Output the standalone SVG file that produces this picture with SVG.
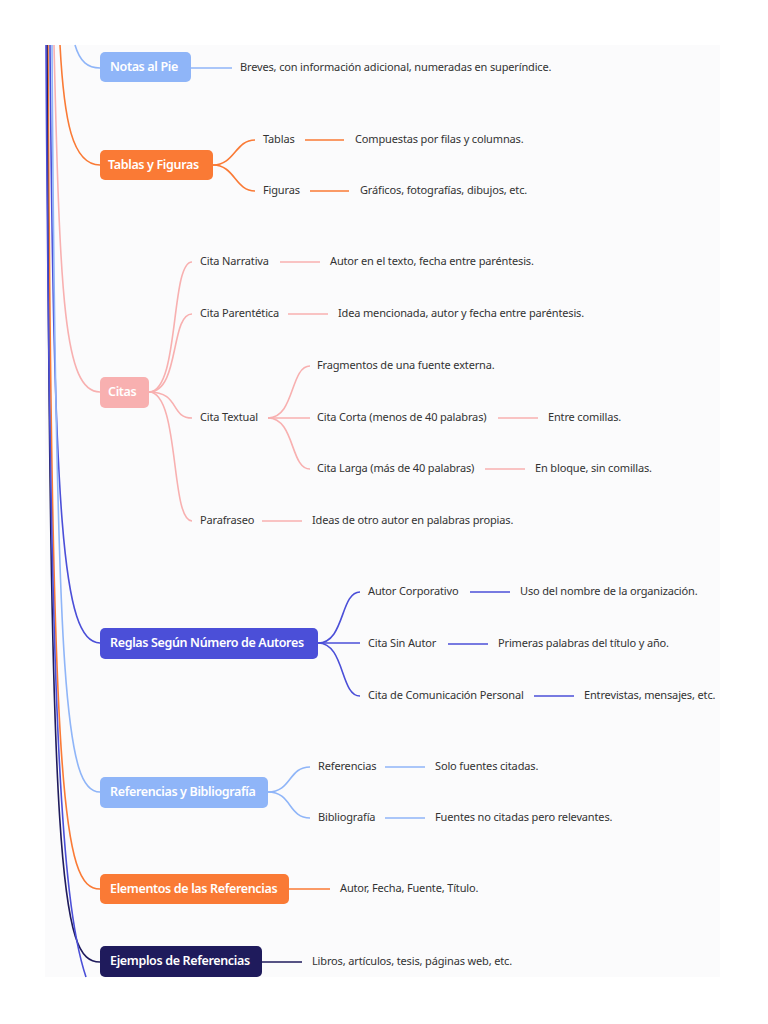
<svg xmlns="http://www.w3.org/2000/svg" width="768" height="1024" viewBox="0 0 768 1024">
<style>
.t{font-family:"Noto Sans","Liberation Sans",sans-serif;font-size:11px;letter-spacing:-0.15px;fill:#333;dominant-baseline:middle}
.n{font-family:"Noto Sans","Liberation Sans",sans-serif;font-size:12.5px;letter-spacing:-0.35px;fill:#fff;font-weight:600;dominant-baseline:middle}
path,line{fill:none;stroke-width:1.6}
.lb{stroke:#8fb5f8}.or{stroke:#fa7a35}.pk{stroke:#f8b0b0}.in{stroke:#4b4fd8}.nv{stroke:#1f1b5c}
</style>
<rect x="45" y="45" width="675" height="932" fill="#fbfbfc"/>
<g id="connectors">
<path class="lb" d="M75,45 C80,62 88,68 100,68"/>
<path class="or" d="M60,45 C64,120 72,165 100,165"/>
<path class="pk" d="M54,45 C60,300 64,392 100,392"/>
<path class="in" d="M50,45 C54,520 62,643 100,643"/>
<path class="lb" d="M52,45 C56,700 66,792 100,792"/>
<path class="or" d="M48,45 C52,800 62,889 100,889"/>
<path class="nv" d="M47,45 C50,880 60,962 100,962"/>
<path class="in" d="M46,45 C50,700 60,900 86,977"/>
<line class="lb" x1="191" y1="68" x2="232" y2="68"/>
<path class="or" d="M213,165 C235,165 235,140 255,140"/>
<path class="or" d="M213,165 C235,165 235,191 255,191"/>
<line class="or" x1="305" y1="140" x2="344" y2="140"/>
<line class="or" x1="310" y1="191" x2="349" y2="191"/>
<path class="pk" d="M149,392 C180,392 170,262 192,262"/>
<path class="pk" d="M149,392 C180,392 170,314 192,314"/>
<path class="pk" d="M149,392 C180,392 170,418 192,418"/>
<path class="pk" d="M149,392 C180,392 170,521 192,521"/>
<line class="pk" x1="280" y1="262" x2="320" y2="262"/>
<line class="pk" x1="288" y1="314" x2="328" y2="314"/>
<line class="pk" x1="262" y1="521" x2="302" y2="521"/>
<path class="pk" d="M268,418 C295,418 290,366 310,366"/>
<line class="pk" x1="268" y1="418" x2="310" y2="418"/>
<path class="pk" d="M268,418 C295,418 290,469 310,469"/>
<line class="pk" x1="498" y1="418" x2="538" y2="418"/>
<line class="pk" x1="485" y1="469" x2="525" y2="469"/>
<path class="in" d="M318,643 C345,643 340,592 360,592"/>
<line class="in" x1="318" y1="643" x2="360" y2="643"/>
<path class="in" d="M318,643 C345,643 340,696 360,696"/>
<line class="in" x1="470" y1="592" x2="510" y2="592"/>
<line class="in" x1="448" y1="644" x2="488" y2="644"/>
<line class="in" x1="534" y1="696" x2="574" y2="696"/>
<path class="lb" d="M268,792 C292,792 288,767 310,767"/>
<path class="lb" d="M268,792 C292,792 288,818 310,818"/>
<line class="lb" x1="385" y1="767" x2="425" y2="767"/>
<line class="lb" x1="385" y1="818" x2="425" y2="818"/>
<line class="or" x1="289" y1="889" x2="330" y2="889"/>
<line class="nv" x1="262" y1="962" x2="302" y2="962"/>
</g>
<g id="notas"><rect x="100" y="52" width="91" height="30" rx="5" fill="#8fb5f8"/><text class="n" x="110" y="68">Notas al Pie</text><text class="t" x="240" y="68">Breves, con información adicional, numeradas en superíndice.</text></g>
<g id="tablas"><rect x="100" y="150" width="113" height="30" rx="5" fill="#fa7a35"/><text class="n" x="108" y="166">Tablas y Figuras</text>
<text class="t" x="263" y="140">Tablas</text><text class="t" x="355" y="140">Compuestas por filas y columnas.</text>
<text class="t" x="263" y="191">Figuras</text><text class="t" x="360" y="191">Gráficos, fotografías, dibujos, etc.</text></g>
<g id="citas"><rect x="100" y="377" width="49" height="31" rx="5" fill="#f8b0b0"/><text class="n" x="108" y="393">Citas</text>
<text class="t" x="200" y="262">Cita Narrativa</text><text class="t" x="330" y="262">Autor en el texto, fecha entre paréntesis.</text>
<text class="t" x="200" y="314">Cita Parentética</text><text class="t" x="338" y="314">Idea mencionada, autor y fecha entre paréntesis.</text>
<text class="t" x="200" y="418">Cita Textual</text>
<text class="t" x="317" y="366">Fragmentos de una fuente externa.</text>
<text class="t" x="317" y="418">Cita Corta (menos de 40 palabras)</text><text class="t" x="548" y="418">Entre comillas.</text>
<text class="t" x="317" y="469">Cita Larga (más de 40 palabras)</text><text class="t" x="535" y="469">En bloque, sin comillas.</text>
<text class="t" x="200" y="521">Parafraseo</text><text class="t" x="312" y="521">Ideas de otro autor en palabras propias.</text></g>
<g id="reglas"><rect x="100" y="628" width="218" height="31" rx="5" fill="#4b4fd8"/><text class="n" x="110" y="644">Reglas Según Número de Autores</text>
<text class="t" x="368" y="592">Autor Corporativo</text><text class="t" x="520" y="592">Uso del nombre de la organización.</text>
<text class="t" x="368" y="644">Cita Sin Autor</text><text class="t" x="498" y="644">Primeras palabras del título y año.</text>
<text class="t" x="368" y="696">Cita de Comunicación Personal</text><text class="t" x="584" y="696">Entrevistas, mensajes, etc.</text></g>
<g id="referencias"><rect x="100" y="777" width="168" height="31" rx="5" fill="#8fb5f8"/><text class="n" x="110" y="793">Referencias y Bibliografía</text>
<text class="t" x="318" y="767">Referencias</text><text class="t" x="435" y="767">Solo fuentes citadas.</text>
<text class="t" x="318" y="818">Bibliografía</text><text class="t" x="435" y="818">Fuentes no citadas pero relevantes.</text></g>
<g id="elementos"><rect x="100" y="874" width="189" height="30" rx="5" fill="#fa7a35"/><text class="n" x="110" y="890">Elementos de las Referencias</text><text class="t" x="340" y="889">Autor, Fecha, Fuente, Título.</text></g>
<g id="ejemplos"><rect x="100" y="946" width="162" height="31" rx="5" fill="#1f1b5c"/><text class="n" x="110" y="962">Ejemplos de Referencias</text><text class="t" x="312" y="962">Libros, artículos, tesis, páginas web, etc.</text></g>
</svg>
